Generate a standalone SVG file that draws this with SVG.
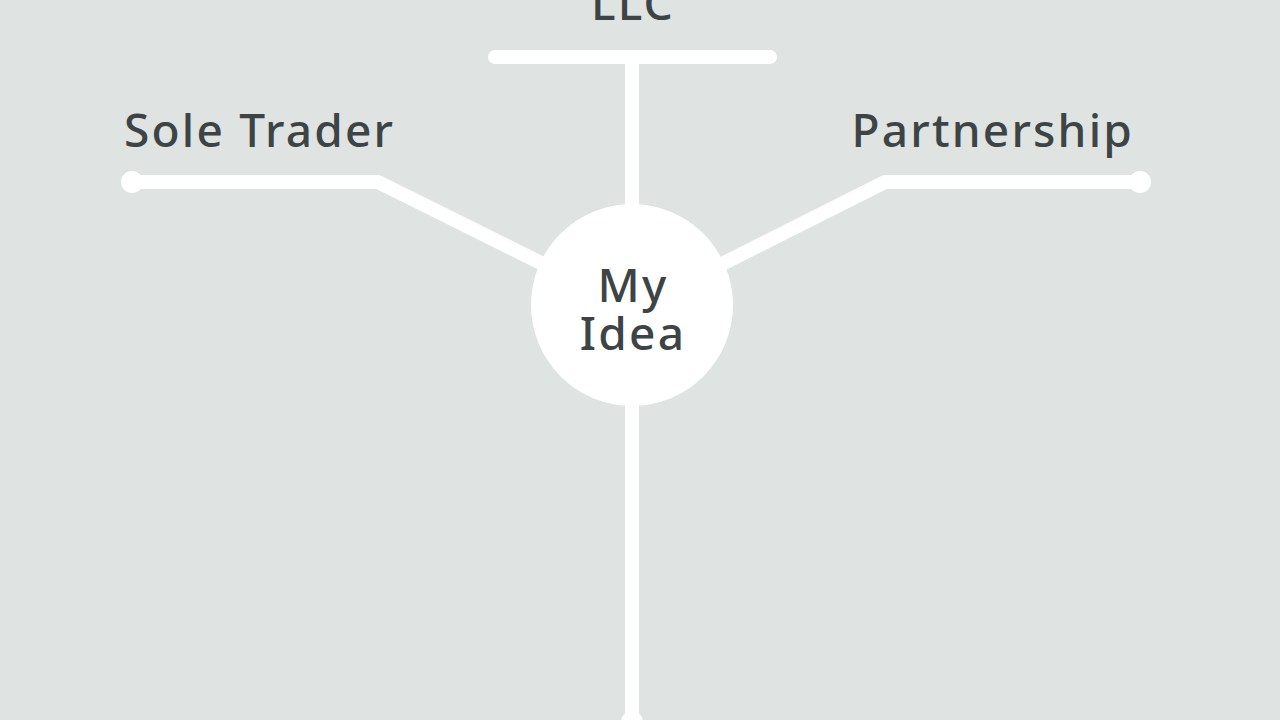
<svg xmlns="http://www.w3.org/2000/svg" width="1280" height="720" viewBox="0 0 1280 720">
<style>
.ln{fill:none;stroke:#ffffff;stroke-width:14;stroke-linecap:round;stroke-linejoin:round}
.dot{fill:#ffffff}
.lbl{font-family:"Noto Sans","Liberation Sans",sans-serif;font-size:46px;fill:#3d4446;font-weight:500;letter-spacing:2.2px}
</style>
<rect width="1280" height="720" fill="#dfe3e1"/>
<g id="connectors">
<path class="ln" d="M632 57 V210"/>
<path class="ln" d="M132 182 H378 L545 265"/>
<path class="ln" d="M1140 182 H885 L720 265"/>
<path class="ln" d="M632 400 V730"/>
</g>
<g id="llc">
<path class="ln" d="M495 57 H770"/>
<text class="lbl" x="633" y="20" text-anchor="middle">LLC</text>
</g>
<g id="sole-trader">
<circle class="dot" cx="132" cy="182" r="11"/>
<text class="lbl" x="124" y="147">Sole Trader</text>
</g>
<g id="partnership">
<circle class="dot" cx="1140" cy="182" r="11"/>
<text class="lbl" x="1134" y="147" text-anchor="end">Partnership</text>
</g>
<g id="bottom">
<circle class="dot" cx="632" cy="722" r="11"/>
</g>
<g id="my-idea">
<circle cx="632" cy="305" r="101" fill="#ffffff"/>
<text class="lbl" text-anchor="middle"><tspan x="633" y="302">My</tspan><tspan x="633" y="350">Idea</tspan></text>
</g>
</svg>
